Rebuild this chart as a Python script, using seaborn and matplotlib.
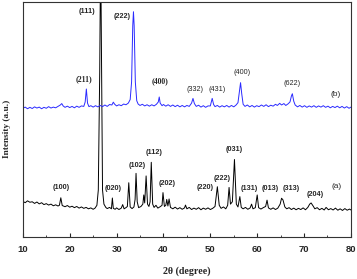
import seaborn as sns
import matplotlib.pyplot as plt
import pandas as pd

# sample (a): 2theta / intensity
two_theta_a = [10.0, 10.5, 11.0, 11.5, 12.0, 12.5, 13.0, 13.5, 14.0, 14.5, 15.0, 15.5, 16.0, 16.5,
               17.0, 17.5, 17.8, 18.1, 18.4, 19.0, 19.5, 20.0, 20.5, 21.0, 21.5, 22.0, 22.5, 23.0,
               23.5, 24.0, 24.5, 25.0, 25.4, 25.8, 26.1, 26.4, 26.6, 26.8, 27.0, 27.3, 27.7, 28.0,
               28.5, 28.9, 29.1, 29.3, 29.7, 30.0, 30.5, 31.0, 31.3, 31.6, 32.0, 32.3, 32.6, 32.9,
               33.3, 33.7, 33.95, 34.15, 34.4, 34.7, 35.2, 35.6, 35.8, 36.0, 36.3, 36.6, 36.9, 37.15,
               37.4, 37.7, 38.0, 38.4, 38.8, 39.3, 39.7, 39.9, 40.2, 40.5, 40.7, 40.95, 41.2, 41.5,
               42.0, 42.5, 43.0, 43.5, 44.0, 44.5, 44.7, 45.0, 45.5, 46.0, 46.5, 47.0, 47.5, 48.0,
               48.5, 49.0, 49.5, 50.0, 50.5, 51.0, 51.5, 51.9, 52.3, 52.8, 53.3, 53.7, 54.0, 54.3,
               54.7, 55.15, 55.55, 55.9, 56.3, 56.6, 57.0, 57.5, 58.0, 58.5, 58.8, 59.1, 59.6, 60.0,
               60.3, 60.8, 61.3, 61.8, 62.1, 62.4, 62.9, 63.4, 63.9, 64.4, 64.9, 65.2, 65.5, 65.9,
               66.3, 66.8, 67.3, 67.8, 68.3, 68.8, 69.3, 69.8, 70.3, 70.8, 71.2, 71.5, 71.9, 72.3,
               72.8, 73.3, 73.8, 74.3, 74.7, 75.2, 75.7, 76.2, 76.7, 77.2, 77.7, 78.2, 78.7, 79.2,
               79.7, 80.0]
intensity_a = [15.2, 14.6, 15.4, 14.8, 15.0, 14.3, 14.9, 14.1, 14.6, 13.8, 14.2, 13.6, 14.0, 13.3,
               13.7, 13.2, 13.5, 16.7, 13.4, 12.9, 13.4, 12.7, 13.1, 12.5, 13.0, 12.3, 12.8, 12.2,
               12.6, 12.0, 12.4, 11.8, 12.3, 13.5, 20.0, 70.0, 125.0, 70.0, 20.0, 14.0, 12.6, 12.1,
               12.6, 12.0, 16.6, 12.2, 11.8, 12.4, 11.7, 12.3, 13.8, 12.0, 12.5, 13.0, 23.1, 12.8,
               12.1, 12.8, 16.0, 27.1, 15.0, 12.5, 13.0, 14.0, 17.9, 14.5, 26.0, 14.0, 13.0, 15.0,
               31.8, 14.0, 12.6, 13.5, 12.3, 12.9, 13.5, 18.9, 13.0, 13.5, 16.0, 13.2, 16.2, 12.6,
               12.0, 12.7, 11.9, 12.5, 11.8, 12.4, 13.6, 12.0, 12.6, 11.7, 12.3, 11.8, 12.5, 11.6,
               12.3, 11.8, 12.4, 11.7, 12.2, 13.0, 21.4, 13.5, 12.2, 12.8, 12.0, 13.5, 21.1, 14.0,
               15.0, 33.0, 14.0, 12.8, 17.2, 12.6, 12.0, 12.6, 11.8, 12.4, 14.0, 12.0, 12.5, 17.9,
               12.5, 11.9, 12.5, 13.0, 15.7, 12.4, 11.8, 12.4, 11.7, 12.3, 14.0, 16.5, 15.8, 12.8,
               12.0, 12.5, 11.7, 12.3, 11.6, 12.2, 11.7, 12.4, 11.6, 12.6, 14.0, 14.5, 13.3, 12.0,
               12.5, 11.6, 12.2, 11.5, 12.6, 11.6, 12.1, 11.5, 12.3, 11.4, 12.0, 11.3, 12.1, 11.4,
               11.9, 11.5]

# sample (b)
two_theta_b = [10.0, 10.5, 11.0, 11.5, 12.0, 12.5, 13.0, 13.5, 14.0, 14.5, 15.0, 15.5, 16.0, 16.5,
               17.0, 17.5, 18.0, 18.3, 18.6, 19.0, 19.5, 20.0, 20.5, 21.0, 21.5, 22.0, 22.5, 23.0,
               23.3, 23.55, 23.8, 24.1, 24.5, 25.0, 25.5, 26.0, 26.5, 27.0, 27.5, 28.0, 28.5, 29.0,
               29.3, 29.6, 30.0, 30.5, 31.0, 31.5, 32.0, 32.5, 32.9, 33.2, 33.45, 33.6, 33.75, 34.0,
               34.3, 34.6, 35.0, 35.5, 36.0, 36.5, 37.0, 37.5, 38.0, 38.5, 38.9, 39.1, 39.3, 39.7,
               40.0, 40.5, 41.0, 41.5, 42.0, 42.5, 43.0, 43.5, 44.0, 44.5, 45.0, 45.5, 46.0, 46.3,
               46.6, 47.0, 47.5, 48.0, 48.5, 49.0, 49.5, 50.0, 50.4, 50.7, 51.0, 51.5, 52.0, 52.5,
               53.0, 53.5, 54.0, 54.5, 55.0, 55.5, 55.9, 56.2, 56.45, 56.7, 57.0, 57.4, 57.9, 58.4,
               58.9, 59.4, 59.9, 60.4, 60.9, 61.4, 61.9, 62.4, 62.9, 63.4, 63.9, 64.3, 64.8, 65.2,
               65.7, 66.1, 66.6, 67.0, 67.3, 67.5, 67.8, 68.1, 68.6, 69.1, 69.6, 70.1, 70.6, 71.1,
               71.6, 72.1, 72.6, 73.1, 73.6, 74.1, 74.6, 75.1, 75.6, 76.1, 76.6, 77.1, 77.6, 78.1,
               78.6, 79.1, 79.6, 80.0]
intensity_b = [54.8, 55.3, 54.6, 55.2, 54.7, 55.4, 54.9, 55.3, 54.6, 55.2, 54.8, 55.5, 54.9, 55.3,
               55.0, 55.6, 56.2, 56.8, 55.8, 55.2, 55.7, 55.1, 55.6, 55.0, 55.7, 55.2, 55.8, 55.6,
               57.5, 63.0, 57.0, 55.5, 55.9, 55.3, 55.9, 55.4, 56.0, 55.5, 56.2, 55.6, 56.4, 56.2,
               57.4, 56.5, 55.8, 56.3, 55.9, 56.6, 56.3, 57.0, 58.5, 66.0, 90.0, 95.9, 90.0, 66.0,
               58.0, 56.6, 56.0, 56.5, 55.8, 56.3, 55.7, 56.3, 55.8, 56.5, 57.5, 59.6, 57.0, 55.9,
               56.4, 55.7, 56.3, 55.6, 56.2, 55.5, 56.1, 55.4, 56.0, 55.4, 56.0, 55.6, 57.0, 59.0,
               56.8, 55.6, 56.1, 55.3, 55.9, 55.2, 55.8, 55.8, 59.0, 56.4, 55.5, 56.0, 55.3, 55.9,
               55.4, 56.0, 55.3, 56.0, 55.4, 56.2, 57.2, 62.0, 65.7, 61.0, 56.5, 55.6, 56.2, 55.4,
               56.0, 55.3, 55.9, 55.5, 56.2, 55.6, 56.3, 55.5, 56.1, 55.7, 56.5, 56.0, 56.9, 56.2,
               56.8, 56.0, 56.7, 57.5, 60.0, 61.0, 57.8, 56.2, 55.4, 56.0, 55.3, 55.9, 55.2, 55.8,
               55.3, 55.9, 55.2, 55.8, 55.3, 55.9, 55.2, 55.7, 55.0, 55.6, 55.1, 55.7, 55.0, 55.6,
               54.9, 55.5, 54.8, 55.3]

# peak labels (text, x, y)
labels_a = ['(100)', '(020)', '(102)', '(112)', '(202)', '(220)', '(222)', '(031)',
            '(131)', '(013)', '(313)', '(204)', '(111)', '(222)']
lab_x_a = [18.1, 29.3, 34.3, 38.1, 40.8, 48.8, 52.5, 55.0, 58.3, 62.7, 67.3, 72.3, 23.6, 31.2]
lab_y_a = [19.7, 19.1, 29.0, 34.6, 21.1, 19.6, 23.5, 35.6, 19.0, 19.0, 19.1, 16.5, 94.3, 92.2]

labels_serif = ['(211)', '(400)']
lab_x_serif = [23.1, 39.2]
lab_y_serif = [65.4, 64.7]

labels_b = ['(332)', '(431)', '(400)', '(622)']
lab_x_b = [46.7, 51.5, 56.8, 67.5]
lab_y_b = [61.4, 61.4, 68.5, 63.7]

sample_tags = ['(a)', '(b)']
tag_x = [77.0, 76.8]
tag_y = [20.2, 59.3]

df_a = pd.DataFrame({'2theta': two_theta_a, 'I': intensity_a})
df_b = pd.DataFrame({'2theta': two_theta_b, 'I': intensity_b})

sns.set_style('ticks')
plt.rcParams['font.family'] = ['Liberation Sans', 'DejaVu Sans']

fig = plt.figure(figsize=(3.57, 2.79), dpi=100)
ax = fig.add_axes([0.064, 0.1505, 0.919, 0.842])

sns.lineplot(data=df_a, x='2theta', y='I', color='black', lw=0.7, ax=ax)
sns.lineplot(data=df_b, x='2theta', y='I', color='#2a2aff', lw=0.7, ax=ax)

for t, x, y in zip(labels_a, lab_x_a, lab_y_a):
    ax.text(x, y, t, ha='center', va='bottom', fontsize=5.2, fontweight='bold')
for t, x, y in zip(labels_serif, lab_x_serif, lab_y_serif):
    ax.text(x, y, t, ha='center', va='bottom', fontsize=5.6, fontweight='bold',
            family=['Liberation Serif', 'DejaVu Serif'])
for t, x, y in zip(labels_b, lab_x_b, lab_y_b):
    ax.text(x, y, t, ha='center', va='bottom', fontsize=5.2)
for t, x, y in zip(sample_tags, tag_x, tag_y):
    ax.text(x, y, t, ha='center', va='bottom', fontsize=6)

ax.set_xlim(10, 80)
ax.set_ylim(0, 100)
ax.set_xticks(range(10, 81, 10))
ax.set_xticks(range(15, 80, 10), minor=True)
ax.set_yticks([])
ax.tick_params(axis='x', which='major', direction='in', length=3, width=0.8,
               labelsize=6.8, pad=6)
ax.tick_params(axis='x', which='minor', direction='in', length=1.8, width=0.6)
for lbl in ax.get_xticklabels():
    lbl.set_fontweight('bold')
for s in ax.spines.values():
    s.set_linewidth(0.8)
    s.set_color('#333333')

ax.set_xlabel('2θ (degree)', fontsize=7.2, fontweight='bold',
              family=['Liberation Serif', 'DejaVu Serif'], labelpad=9)
ax.set_ylabel('Intensity (a.u.)', fontsize=6.7, fontweight='bold',
              family=['Liberation Serif', 'DejaVu Serif'])
ax.yaxis.set_label_coords(-0.035, 0.46)

fig.savefig('out.png', dpi=100)
